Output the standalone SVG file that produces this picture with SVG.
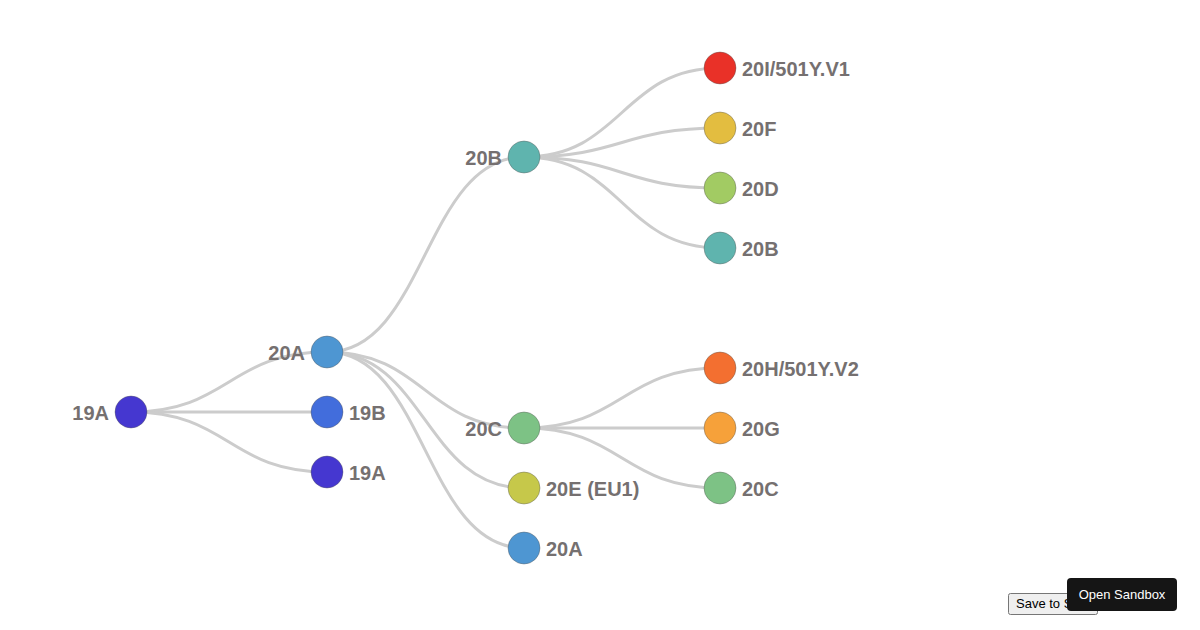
<svg xmlns="http://www.w3.org/2000/svg" width="1200" height="630" viewBox="0 0 1200 630">
<style>
.l{fill:none;stroke:#ccc;stroke-width:3}
.n circle{stroke-width:1;stroke-opacity:0.4;stroke:#555}
.n text{font-family:"Liberation Sans",Arial,sans-serif;font-weight:bold;font-size:20px;fill:#757070;dominant-baseline:central}
.e{text-anchor:end}
</style>
<rect width="1200" height="630" fill="#fff"/>
<g id="links">
<path class="l" d="M131 412C229 412 229 352 327 352"/>
<path class="l" d="M131 412C229 412 229 412 327 412"/>
<path class="l" d="M131 412C229 412 229 472 327 472"/>
<path class="l" d="M327 352C425 352 425 157 524 157"/>
<path class="l" d="M327 352C425 352 425 428 524 428"/>
<path class="l" d="M327 352C425 352 425 488 524 488"/>
<path class="l" d="M327 352C425 352 425 548 524 548"/>
<path class="l" d="M524 157C622 157 622 68 720 68"/>
<path class="l" d="M524 157C622 157 622 128 720 128"/>
<path class="l" d="M524 157C622 157 622 188 720 188"/>
<path class="l" d="M524 157C622 157 622 248 720 248"/>
<path class="l" d="M524 428C622 428 622 368 720 368"/>
<path class="l" d="M524 428C622 428 622 428 720 428"/>
<path class="l" d="M524 428C622 428 622 488 720 488"/>
</g>
<g id="n19A" class="n"><circle cx="131" cy="412" r="16" fill="#4537d0"/><text class="e" x="109" y="413">19A</text></g>
<g id="n20A" class="n"><circle cx="327" cy="352" r="16" fill="#4e96d2"/><text class="e" x="305" y="353">20A</text></g>
<g id="n19B" class="n"><circle cx="327" cy="412" r="16" fill="#426ddc"/><text x="349" y="413">19B</text></g>
<g id="n19A2" class="n"><circle cx="327" cy="472" r="16" fill="#4537d0"/><text x="349" y="473">19A</text></g>
<g id="n20B" class="n"><circle cx="524" cy="157" r="16" fill="#5fb4ae"/><text class="e" x="502" y="158">20B</text></g>
<g id="n20C" class="n"><circle cx="524" cy="428" r="16" fill="#7dc285"/><text class="e" x="502" y="429">20C</text></g>
<g id="n20E" class="n"><circle cx="524" cy="488" r="16" fill="#c6c84a"/><text x="546" y="489">20E (EU1)</text></g>
<g id="n20A2" class="n"><circle cx="524" cy="548" r="16" fill="#4e96d2"/><text x="546" y="549">20A</text></g>
<g id="n20I" class="n"><circle cx="720" cy="68" r="16" fill="#e93128"/><text x="742" y="69">20I/501Y.V1</text></g>
<g id="n20F" class="n"><circle cx="720" cy="128" r="16" fill="#e3bd40"/><text x="742" y="129">20F</text></g>
<g id="n20D" class="n"><circle cx="720" cy="188" r="16" fill="#a2cb63"/><text x="742" y="189">20D</text></g>
<g id="n20B2" class="n"><circle cx="720" cy="248" r="16" fill="#5fb4ae"/><text x="742" y="249">20B</text></g>
<g id="n20H" class="n"><circle cx="720" cy="368" r="16" fill="#f36f30"/><text x="742" y="369">20H/501Y.V2</text></g>
<g id="n20G" class="n"><circle cx="720" cy="428" r="16" fill="#f6a13a"/><text x="742" y="429">20G</text></g>
<g id="n20C2" class="n"><circle cx="720" cy="488" r="16" fill="#7dc285"/><text x="742" y="489">20C</text></g>
<g id="ui" font-family="Liberation Sans,Arial,sans-serif" font-size="13">
<rect x="1008.5" y="593.5" width="89" height="21" rx="2" fill="#efefef" stroke="#767676"/>
<text x="1016" y="608" fill="#000">Save to S</text>
<rect x="1067" y="578" width="110" height="33" rx="4" fill="#151515"/>
<text x="1122" y="599" fill="#fff" text-anchor="middle">Open Sandbox</text>
</g>
</svg>
